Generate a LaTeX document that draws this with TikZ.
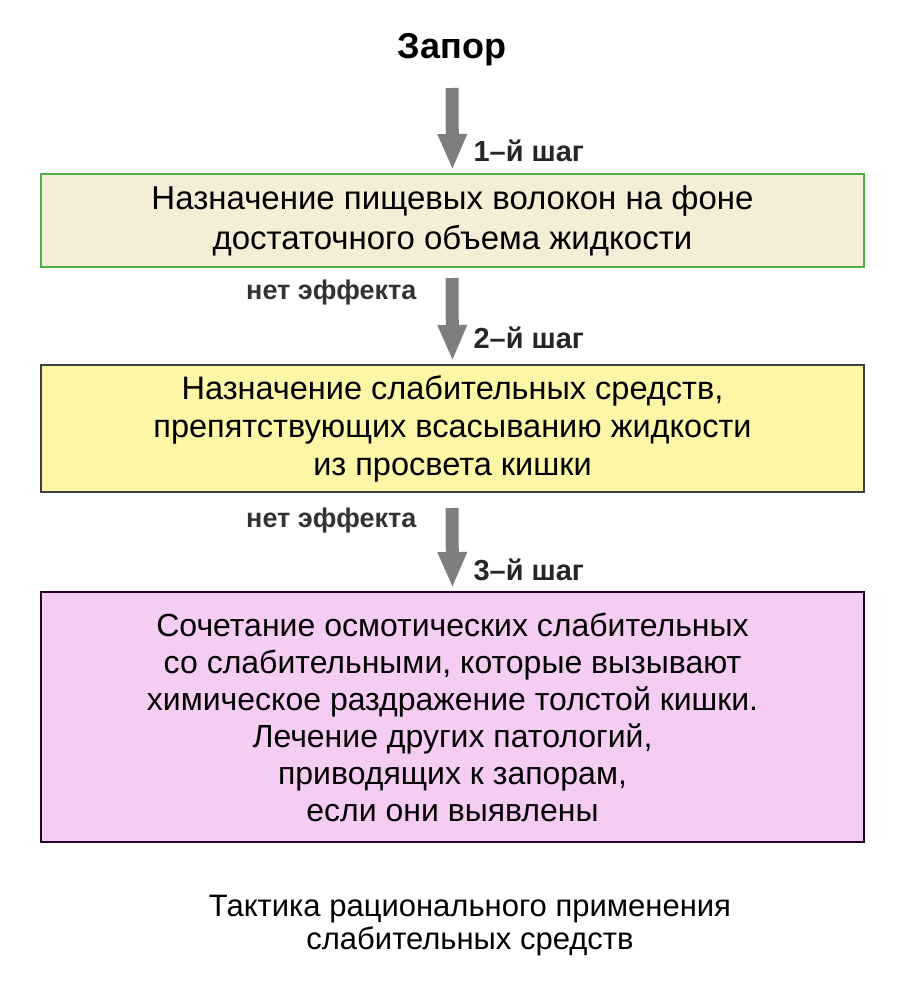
\documentclass[tikz,border=0pt]{standalone}
\usepackage{fontspec}
\setmainfont{Liberation Sans}
\usetikzlibrary{arrows.meta}
\definecolor{boxA}{HTML}{F6EDD6}
\definecolor{boxAline}{HTML}{4DB040}
\definecolor{boxB}{HTML}{FCF6A6}
\definecolor{boxC}{HTML}{F5CDF2}
\definecolor{arr}{HTML}{7E7E7E}
\tikzset{
  stepbox/.style={draw, line width=2pt, minimum width=823pt, align=center, font=\fontsize{32.5}{38}\selectfont, inner sep=0pt},
  bigarrow/.style={arr, line width=13pt, -{Triangle[width=27pt,length=36pt]}, shorten >=3pt},
  steplbl/.style={anchor=west, font=\bfseries\fontsize{29}{32}\selectfont, text=black!85},
  noeff/.style={anchor=east, font=\bfseries\fontsize{27}{30}\selectfont, text=black!80}
}
\begin{document}
\begin{tikzpicture}[x=1pt,y=-1pt]
\useasboundingbox[fill=white] (0,0) rectangle (898,992);
\node[font=\bfseries\fontsize{36}{40}\selectfont] (t) at (452,50) {Запор};
\node[stepbox, fill=boxA, draw=boxAline, minimum height=93pt, font=\fontsize{33}{40}\selectfont] (b1) at (452.5,220.5) {Назначение пищевых волокон на фоне\\достаточного объема жидкости};
\node[stepbox, fill=boxB, draw=black!75, minimum height=127pt] (b2) at (452.5,428.5) {Назначение слабительных средств,\\препятствующих всасыванию жидкости\\из просвета кишки};
\node[stepbox, fill=boxC, draw=black!70!violet, minimum height=250pt, font=\fontsize{32}{37}\selectfont] (b3) at (452.5,717) {Сочетание осмотических слабительных\\со слабительными, которые вызывают\\химическое раздражение толстой кишки.\\Лечение других патологий,\\приводящих к запорам,\\если они выявлены};
\coordinate (a1) at (452,88);
\coordinate (a2) at (452,278);
\coordinate (a3) at (452,508);
\draw[bigarrow] (a1) -- (b1.north);
\draw[bigarrow] (a2) -- (b2.north);
\draw[bigarrow] (a3) -- (b3.north);
\node[steplbl] (s1) at (470,151) {1–й шаг};
\node[steplbl] (s2) at (470,338) {2–й шаг};
\node[steplbl] (s3) at (470,570) {3–й шаг};
\node[noeff] (n1) at (420,293) {нет эффекта};
\node[noeff] (n2) at (420,521) {нет эффекта};
\node[align=center, font=\fontsize{31}{33}\selectfont] (cap) at (470,926) {Тактика рационального применения\\слабительных средств};
\end{tikzpicture}
\end{document}
